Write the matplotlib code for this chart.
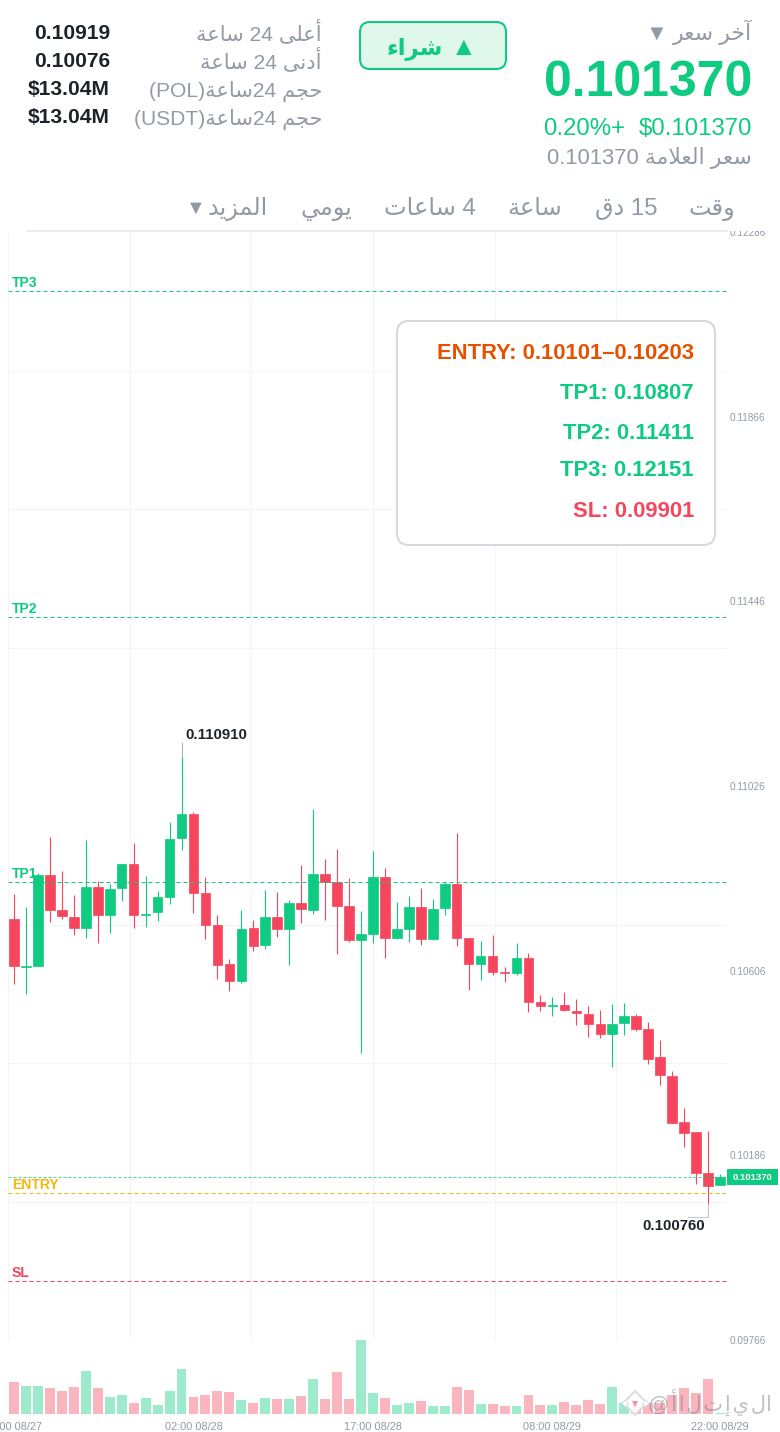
import re
import matplotlib
matplotlib.use("Agg")
import matplotlib.pyplot as plt
from matplotlib.patches import FancyBboxPatch, Rectangle

plt.rcParams['font.family'] = ['Liberation Sans', 'DejaVu Sans']

GREEN = '#0ecb81'
RED = '#f6465d'
GREY = '#929aa5'
DARK = '#1e2329'
W, H = 780, 1432

# candles, values
opens = [0.107235, 0.106151, 0.106174, 0.108228, 0.107432, 0.107273, 0.107023, 0.107955, 0.107334, 0.107932,
         0.108478, 0.107334, 0.107387, 0.107743, 0.109077, 0.109623, 0.107826, 0.107106, 0.106212, 0.105825,
         0.107023, 0.106644, 0.107281, 0.107015, 0.107591, 0.107447, 0.108266, 0.108077, 0.107523, 0.106750,
         0.106901, 0.108198, 0.106803, 0.107008, 0.107500, 0.106780, 0.107478, 0.108031, 0.106795, 0.106204,
         0.106401, 0.106030, 0.106014, 0.106356, 0.105347, 0.105256, 0.105287, 0.105150, 0.105075, 0.104847,
         0.104627, 0.104870, 0.105037, 0.104733, 0.104097, 0.103657, 0.102611, 0.102383, 0.101451, 0.101185]
closes = [0.106166, 0.106166, 0.108228, 0.107440, 0.107296, 0.107038, 0.107955, 0.107334, 0.107917, 0.108478,
          0.107334, 0.107349, 0.107735, 0.109055, 0.109616, 0.107826, 0.107106, 0.106196, 0.105832, 0.107008,
          0.106629, 0.107281, 0.107008, 0.107599, 0.107455, 0.108266, 0.108077, 0.107523, 0.106750, 0.106894,
          0.108198, 0.106795, 0.107008, 0.107500, 0.106773, 0.107463, 0.108039, 0.106795, 0.106204, 0.106401,
          0.106030, 0.105999, 0.106356, 0.105347, 0.105249, 0.105287, 0.105158, 0.105090, 0.104855, 0.104627,
          0.104855, 0.105037, 0.104733, 0.104043, 0.103680, 0.102595, 0.102376, 0.101458, 0.101170, 0.101370]
highs = [0.107796, 0.107516, 0.108289, 0.109108, 0.108319, 0.107773, 0.109024, 0.108107, 0.108023, 0.108478,
         0.108971, 0.108221, 0.107864, 0.109434, 0.110910, 0.109669, 0.108183, 0.107318, 0.106325, 0.107432,
         0.107205, 0.107895, 0.107849, 0.107660, 0.108463, 0.109737, 0.108600, 0.108827, 0.108168, 0.107417,
         0.108782, 0.108387, 0.107622, 0.107758, 0.107940, 0.107690, 0.108069, 0.109191, 0.106811, 0.106735,
         0.106864, 0.106143, 0.106682, 0.106454, 0.105507, 0.105454, 0.105582, 0.105416, 0.105256, 0.105166,
         0.105302, 0.105332, 0.105067, 0.104900, 0.104483, 0.103771, 0.102944, 0.102383, 0.102421, 0.101443]
lows = [0.105764, 0.105537, 0.106174, 0.107174, 0.107235, 0.106879, 0.106810, 0.106697, 0.106917, 0.107644,
        0.107038, 0.107061, 0.107190, 0.107576, 0.108804, 0.107371, 0.106780, 0.105878, 0.105605, 0.105787,
        0.106515, 0.106545, 0.106833, 0.106196, 0.107144, 0.107349, 0.107212, 0.106447, 0.106704, 0.104195,
        0.106689, 0.106356, 0.106780, 0.106720, 0.106644, 0.106765, 0.107326, 0.106629, 0.105613, 0.105848,
        0.105961, 0.105810, 0.105961, 0.105128, 0.105143, 0.105029, 0.105143, 0.104832, 0.104551, 0.104536,
        0.103862, 0.104597, 0.104680, 0.103937, 0.103467, 0.102595, 0.102057, 0.101201, 0.100760, 0.101185]
volumes = [95, 83, 83, 78, 69, 81, 128, 78, 52, 57, 33, 47, 28, 69, 136, 52, 57, 69, 65, 42,
           32, 48, 44, 46, 55, 104, 46, 126, 45, 222, 63, 48, 27, 33, 38, 24, 24, 80, 72, 29,
           30, 25, 23, 57, 28, 27, 36, 27, 43, 29, 81, 34, 27, 32, 32, 57, 78, 63, 104, 4]

price_labels = [0.12286, 0.11866, 0.11446, 0.11026, 0.10606, 0.10186, 0.09766]
grid_prices = [0.12286, 0.11971, 0.11656, 0.11341, 0.11026, 0.10711, 0.10396, 0.10081, 0.09766]
time_idx = [0, 15, 30, 45, 59]
time_labels = ['11:00 08/27', '02:00 08/28', '17:00 08/28', '08:00 08/29', '22:00 08/29']

last_price = 0.101370
levels = [('TP3', 0.12151, GREEN), ('TP2', 0.11411, GREEN), ('TP1', 0.10807, GREEN),
          ('ENTRY', 0.10101, '#f0b90b'), ('SL', 0.09901, RED)]

box_lines = [('ENTRY: 0.10101\u20130.10203', '#e65100', 351), ('TP1: 0.10807', GREEN, 391),
             ('TP2: 0.11411', GREEN, 431), ('TP3: 0.12151', GREEN, 468), ('SL: 0.09901', RED, 509)]


# matplotlib has no arabic shaping, so pick the presentation forms by hand
DUAL = {'ب': 0xFE8F, 'ت': 0xFE95, 'ج': 0xFE9D, 'ح': 0xFEA1, 'خ': 0xFEA5, 'س': 0xFEB1, 'ش': 0xFEB5, 'ع': 0xFEC9,
        'ق': 0xFED5, 'ل': 0xFEDD, 'م': 0xFEE1, 'ن': 0xFEE5, 'ي': 0xFEF1}
RIGHT = {'ا': 0xFE8D, 'أ': 0xFE83, 'إ': 0xFE87, 'آ': 0xFE81, 'د': 0xFEA9, 'ر': 0xFEAD, 'ز': 0xFEAF, 'و': 0xFEED,
         'ة': 0xFE93, 'ى': 0xFEEF, 'ء': 0xFE80, '\uFEFB': 0xFEFB}
MIRROR = str.maketrans('()', ')(')


def ar(s):
    s = s.replace('لا', '\uFEFB')
    out = []
    for i, c in enumerate(s):
        prev = s[i - 1] if i > 0 else ''
        nxt = s[i + 1] if i + 1 < len(s) else ''
        p = prev in DUAL
        n = nxt in DUAL or nxt in RIGHT
        if c in DUAL:
            out.append(chr(DUAL[c] + (3 if p and n else 1 if p else 2 if n else 0)))
        elif c == 'ء':
            out.append(chr(RIGHT[c]))
        elif c in RIGHT:
            out.append(chr(RIGHT[c] + (1 if p else 0)))
        else:
            out.append(c)
    vis = ''.join(out)[::-1]
    vis = re.sub(r'[0-9A-Za-z.$%]+', lambda m: m.group(0)[::-1], vis)
    return vis.translate(MIRROR)


def px_rect(l, t, r, b):
    return [l / W, 1 - b / H, (r - l) / W, (b - t) / H]


fig = plt.figure(figsize=(W / 100, H / 100), dpi=100, facecolor='white')

# price panel
ax = fig.add_axes(px_rect(8, 232, 727, 1340))
ax.set_xlim(-0.5014, 59.59)
ax.set_ylim(0.09766, 0.12286)
for s in ax.spines.values():
    s.set_visible(False)
ax.yaxis.tick_right()
ax.set_yticks(price_labels, [f'{p:.5f}' for p in price_labels])
ax.set_yticks(grid_prices, minor=True)
ax.set_xticks([-0.5, 9.67, 19.84, 30.01, 40.18, 50.35])
ax.set_xticklabels([])
ax.tick_params(axis='both', which='both', length=0)
ax.tick_params(axis='y', labelsize=7.2, labelcolor=GREY, pad=2.2)
ax.grid(False)
ax.grid(True, axis='x', which='major', color='#f4f5f6', lw=0.75)
ax.grid(True, axis='y', which='minor', color='#f4f5f6', lw=0.75)
ax.set_axisbelow(True)

colors = [GREEN if c >= o else RED for o, c in zip(opens, closes)]
idx = list(range(len(opens)))
ax.vlines(idx, lows, highs, colors=colors, lw=0.8, zorder=3)
ax.bar(idx, [abs(c - o) for o, c in zip(opens, closes)], bottom=[min(o, c) for o, c in zip(opens, closes)],
       width=0.8, color=colors, edgecolor=colors, lw=0.5, zorder=4)

for name, price, col in levels:
    ax.axhline(price, color=col, lw=0.72, dashes=(4, 3), zorder=5)
ax.axhline(last_price, color=GREEN, lw=0.72, dashes=(3, 2), alpha=0.75, zorder=5)

# volume panel
vax = fig.add_axes(px_rect(8, 1340, 727, 1414))
vax.set_xlim(ax.get_xlim())
vax.set_ylim(0, 222)
vax.bar(idx, volumes, width=0.83, color=colors, alpha=0.4, lw=0)
for s in vax.spines.values():
    s.set_visible(False)
vax.set_yticks([])
vax.set_xticks(time_idx, time_labels)
vax.tick_params(axis='x', length=0, labelsize=7.9, labelcolor=GREY, pad=5.5)
vax.patch.set_alpha(0)

# everything else in pixels, on top
ui = fig.add_axes([0, 0, 1, 1], zorder=10)
ui.set_xlim(0, W)
ui.set_ylim(H, 0)
ui.axis('off')
ui.patch.set_alpha(0)


def y_px(price):
    return 232 + (0.12286 - price) / 0.0252 * 1108


def txt(x, y, s, px, color=GREY, ha='right', weight='normal', **kw):
    # y is the middle of the digits, baseline keeps arabic and latin rows level
    return ui.text(x, y + 0.36 * px, s, fontsize=px * 0.72, color=color, ha=ha, va='baseline', weight=weight,
                   parse_math=False, **kw)


# cut the top axis label and draw the header rule
ui.add_patch(Rectangle((727, 222), 53, 9, fc='white', ec='none'))
ui.plot([28, 727], [231, 231], color='#eaecef', lw=1.5)

# header, right block
txt(752, 32, ar('آخر سعر'), 22)
txt(656, 32, '\u25bc', 22, ha='center')
txt(752, 78, '0.101370', 50, color=GREEN, weight='bold')
txt(752, 126, '$0.101370', 24, color=GREEN)
txt(625, 126, '0.20%+', 24, color=GREEN)
txt(752, 156, ar('سعر العلامة 0.101370'), 22)

# buy button
ui.add_patch(FancyBboxPatch((360, 22), 146, 47, boxstyle='round,pad=0,rounding_size=10', fc='#e0f7ec', ec=GREEN, lw=1.5))
txt(443, 46, ar('شراء'), 23, color=GREEN, weight='bold', ha='right')
txt(464, 46, '\u25b2', 26, color=GREEN, ha='center')

# 24h stats
stat_rows = [('أعلى 24 ساعة', '0.10919', 33), ('أدنى 24 ساعة', '0.10076', 61),
             ('حجم 24ساعة(POL)', '$13.04M', 89), ('حجم 24ساعة(USDT)', '$13.04M', 117)]
for label, value, y in stat_rows:
    txt(322, y, ar(label), 21)
    txt(110, y - 2, value, 21, color=DARK, weight='bold')

# period tabs
tabs = [('وقت', 712), ('15 دق', 626), ('ساعة', 535), ('4 ساعات', 430), ('يومي', 326), ('المزيد', 238)]
for label, x in tabs:
    txt(x, 206, ar(label), 24, ha='center')
txt(196, 207, '\u25bc', 20, ha='center')

# level names
for name, price, col in levels:
    txt(12, y_px(price) - 9, name, 14, color=col, ha='left', weight='bold')

# info box
ui.add_patch(FancyBboxPatch((397, 321), 318, 224, boxstyle='round,pad=0,rounding_size=12', fc='white', ec='#d5d8dc', lw=1.5))
for s, col, y in box_lines:
    txt(694, y, s, 22, color=col, weight='bold')

# high / low callouts
hi_x = 14 + 14 * 11.966
lo_x = 14 + 58 * 11.966
ui.plot([hi_x, hi_x], [743, y_px(0.110910)], color='#b0b5bb', lw=0.8)
txt(185, 734, '0.110910', 15, color=DARK, ha='left', weight='bold')
ui.plot([lo_x, lo_x, 688], [y_px(0.100760), 1217, 1217], color='#c4c8cc', lw=0.8)
txt(642, 1225, '0.100760', 15, color=DARK, ha='left', weight='bold')

# last price tag
ui.add_patch(Rectangle((727, 1169), 51, 16, fc=GREEN, ec='none'))
txt(752.5, y_px(last_price), '0.101370', 9.5, color='white', ha='center', weight='bold')

# watermark
ui.plot(635, 1403, marker='D', ms=12, mfc='white', mec='#d8dadd', mew=1.5, alpha=0.9)
ui.plot(635, 1404, marker='v', ms=5, color='#e58a9a', alpha=0.9, mew=0)
ui.plot([625, 645], [1403, 1403], ls='', marker='D', ms=3.5, mfc='white', mec='#d8dadd', mew=0.6)
wm = '\u200a'.join(['ال', 'ي', 'إ', 'ت', 'ل', 'ا', 'أ', '@'])
txt(772, 1403, ar(wm), 21, color='#7d8590', alpha=0.5)

fig.savefig('out.png', dpi=100)
